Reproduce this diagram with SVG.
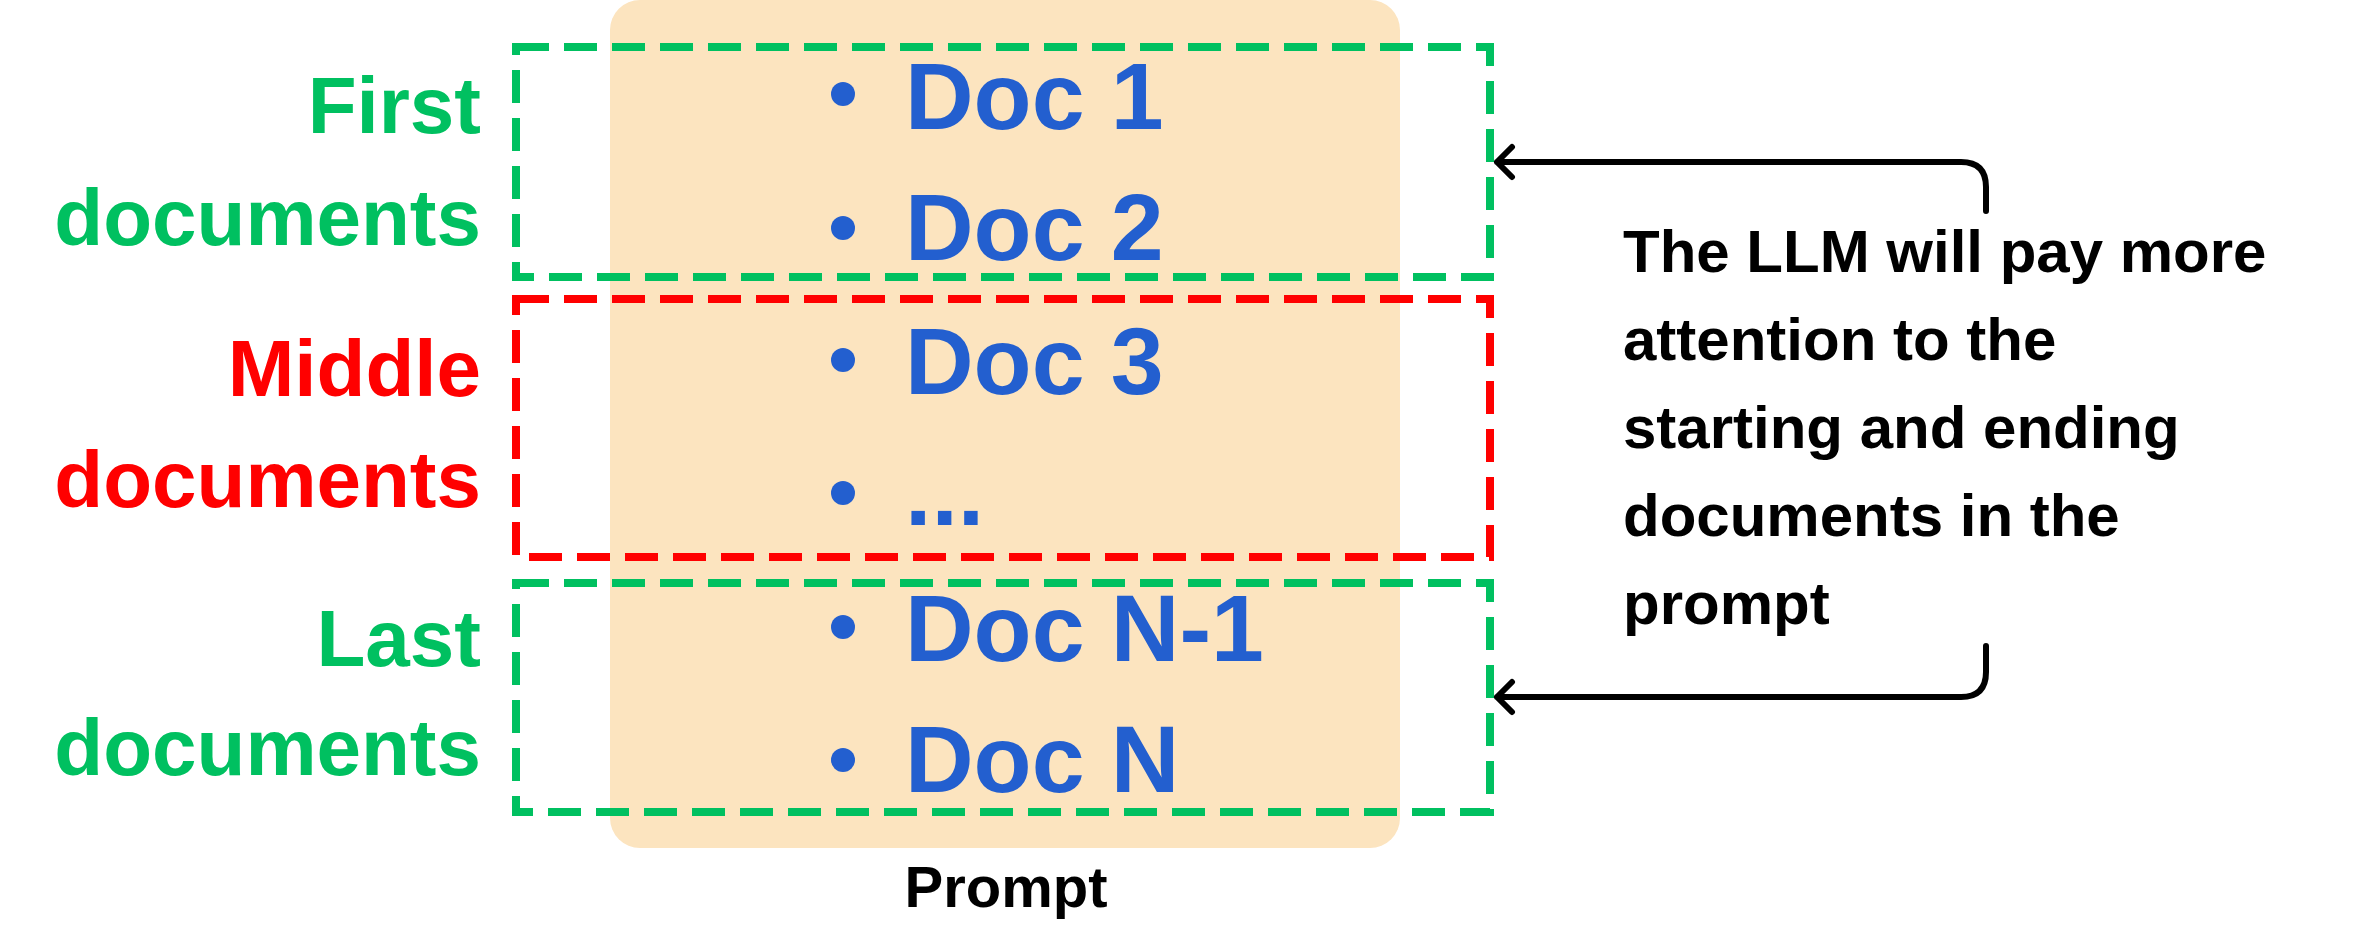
<svg xmlns="http://www.w3.org/2000/svg" width="2372" height="946" viewBox="0 0 2372 946">
<style>
text{font-family:"Liberation Sans",Arial,sans-serif;font-weight:bold}
.lab{font-size:80px;text-anchor:end}
.g{fill:#00c060}.r{fill:#ff0000}
.doc{font-size:95px;fill:#235fcf}
.box{fill:none;stroke-width:8;stroke-dasharray:33 15}
.note{font-size:60px;fill:#000}
.conn{fill:none;stroke:#000;stroke-width:6;stroke-linecap:round;stroke-linejoin:round}
</style>
<rect width="2372" height="946" fill="#fff"/>
<g id="prompt">
<rect x="610" y="0" width="790" height="848" rx="30" fill="#fce4bf"/>
<text x="1006" y="907" font-size="58" text-anchor="middle" fill="#000">Prompt</text>
</g>
<g id="first">
<rect class="box" x="516" y="47" width="974" height="230" stroke="#00c060"/>
<text class="lab g" x="481" y="133">First</text>
<text class="lab g" x="481" y="245">documents</text>
</g>
<g id="middle">
<rect class="box" x="516" y="299" width="974" height="258" stroke="#ff0000"/>
<text class="lab r" x="481" y="396">Middle</text>
<text class="lab r" x="481" y="507">documents</text>
</g>
<g id="last">
<rect class="box" x="516" y="583" width="974" height="229" stroke="#00c060"/>
<text class="lab g" x="481" y="666">Last</text>
<text class="lab g" x="481" y="775">documents</text>
</g>
<g id="docs" fill="#235fcf">
<circle cx="843" cy="94" r="12"/><text class="doc" x="905" y="129">Doc 1</text>
<circle cx="843" cy="228" r="12"/><text class="doc" x="905" y="260">Doc 2</text>
<circle cx="843" cy="360" r="12"/><text class="doc" x="905" y="394">Doc 3</text>
<circle cx="843" cy="493" r="12"/><text class="doc" x="905" y="525">...</text>
<circle cx="843" cy="627" r="12"/><text class="doc" x="905" y="661">Doc N-1</text>
<circle cx="843" cy="760" r="12"/><text class="doc" x="905" y="792">Doc N</text>
</g>
<g id="note">
<text class="note" x="1623" y="272">The LLM will pay more</text>
<text class="note" x="1623" y="360">attention to the</text>
<text class="note" x="1623" y="448">starting and ending</text>
<text class="note" x="1623" y="536">documents in the</text>
<text class="note" x="1623" y="624">prompt</text>
</g>
<g id="connectors" class="conn">
<path d="M1986 211 V187 Q1986 162 1961 162 H1497 M1512 147 L1497 162 L1512 177"/>
<path d="M1986 646 V672 Q1986 697 1961 697 H1497 M1512 682 L1497 697 L1512 712"/>
</g>
</svg>
